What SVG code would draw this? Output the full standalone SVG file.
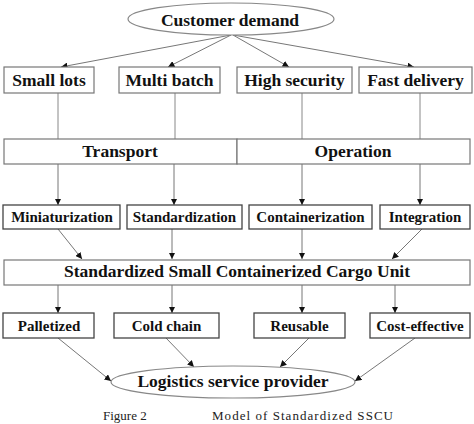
<svg xmlns="http://www.w3.org/2000/svg" width="474" height="424" viewBox="0 0 474 424">
<defs>
<marker id="ah" viewBox="0 0 10 10" refX="10" refY="5" markerWidth="6.5" markerHeight="6.5" markerUnits="userSpaceOnUse" orient="auto">
<path d="M0,0 L10,5 L0,10 z" fill="#111"/>
</marker>
<style>
.bx{fill:#fff;stroke:#777;stroke-width:1.2}
.bd{fill:#fff;stroke:#444;stroke-width:1.3}
.el{fill:#fff;stroke:#888;stroke-width:1.2}
.t1{font-family:"Liberation Serif","Times New Roman",serif;font-weight:bold;font-size:17.5px;fill:#111;text-anchor:middle}
.t2{font-family:"Liberation Serif","Times New Roman",serif;font-weight:bold;font-size:15px;fill:#111;text-anchor:middle}
.cap{font-family:"Liberation Serif","Times New Roman",serif;font-size:13px;fill:#222}
.ln{fill:none;stroke:#888;stroke-width:1}
.ar{fill:none;stroke:#777;stroke-width:1;marker-end:url(#ah)}
</style>
</defs>
<rect width="474" height="424" fill="#fff"/>
<g id="connectors">
<line class="ar" x1="231" y1="35" x2="61" y2="67"/>
<line class="ar" x1="231" y1="35" x2="168" y2="67"/>
<line class="ar" x1="233" y1="35" x2="289" y2="67"/>
<line class="ar" x1="233" y1="35" x2="414" y2="67"/>
<line class="ln" x1="58" y1="93" x2="58" y2="139"/>
<line class="ln" x1="175" y1="93" x2="175" y2="139"/>
<line class="ln" x1="302" y1="93" x2="302" y2="139"/>
<line class="ln" x1="420" y1="93" x2="420" y2="139"/>
<line class="ar" x1="58" y1="164" x2="58" y2="205"/>
<line class="ar" x1="174" y1="164" x2="174" y2="205"/>
<line class="ar" x1="302" y1="164" x2="302" y2="205"/>
<line class="ar" x1="420" y1="164" x2="420" y2="205"/>
<line class="ar" x1="58" y1="229" x2="82" y2="259"/>
<line class="ar" x1="172" y1="229" x2="172" y2="259"/>
<line class="ar" x1="302" y1="229" x2="302" y2="259"/>
<line class="ar" x1="422" y1="229" x2="392" y2="259"/>
<line class="ar" x1="58" y1="285" x2="58" y2="313"/>
<line class="ar" x1="172" y1="285" x2="172" y2="313"/>
<line class="ar" x1="302" y1="285" x2="302" y2="313"/>
<line class="ar" x1="395" y1="285" x2="395" y2="313"/>
<line class="ar" x1="58" y1="338" x2="111" y2="381"/>
<line class="ar" x1="166" y1="338" x2="194" y2="367"/>
<line class="ar" x1="309" y1="338" x2="280" y2="367"/>
<line class="ar" x1="415" y1="338" x2="355" y2="381"/>
</g>
<g id="customer-demand">
<ellipse class="el" cx="231" cy="19" rx="103" ry="16"/>
<text class="t1" x="230" y="26">Customer demand</text>
</g>
<g id="small-lots">
<rect class="bx" x="4" y="67" width="90" height="26"/>
<text class="t1" x="49" y="86">Small lots</text>
</g>
<g id="multi-batch">
<rect class="bx" x="119" y="67" width="101" height="26"/>
<text class="t1" x="169.5" y="86">Multi batch</text>
</g>
<g id="high-security">
<rect class="bx" x="237" y="67" width="115" height="26"/>
<text class="t1" x="294.5" y="86">High security</text>
</g>
<g id="fast-delivery">
<rect class="bx" x="359" y="67" width="113" height="26"/>
<text class="t1" x="415.5" y="86">Fast delivery</text>
</g>
<g id="transport">
<rect class="bx" x="4" y="139" width="233" height="25"/>
<text class="t1" x="120" y="157">Transport</text>
</g>
<g id="operation">
<rect class="bx" x="237" y="139" width="233" height="25"/>
<text class="t1" x="353" y="157">Operation</text>
</g>
<g id="miniaturization">
<rect class="bd" x="3" y="205" width="117" height="24"/>
<text class="t2" x="62" y="222">Miniaturization</text>
</g>
<g id="standardization">
<rect class="bd" x="127" y="205" width="115" height="24"/>
<text class="t2" x="184.5" y="222">Standardization</text>
</g>
<g id="containerization">
<rect class="bd" x="249" y="205" width="123" height="24"/>
<text class="t2" x="310.5" y="222">Containerization</text>
</g>
<g id="integration">
<rect class="bd" x="380" y="205" width="90" height="24"/>
<text class="t2" x="425" y="222">Integration</text>
</g>
<g id="sscu">
<rect class="bx" x="4" y="260" width="466" height="25"/>
<text class="t1" x="237" y="277">Standardized Small Containerized Cargo Unit</text>
</g>
<g id="palletized">
<rect class="bd" x="3" y="313" width="91" height="25"/>
<text class="t2" x="49" y="331">Palletized</text>
</g>
<g id="cold-chain">
<rect class="bd" x="114" y="313" width="105" height="25"/>
<text class="t2" x="166.5" y="331">Cold chain</text>
</g>
<g id="reusable">
<rect class="bd" x="254" y="313" width="91" height="25"/>
<text class="t2" x="299.5" y="331">Reusable</text>
</g>
<g id="cost-effective">
<rect class="bd" x="370" y="313" width="100" height="25"/>
<text class="t2" x="420" y="331">Cost-effective</text>
</g>
<g id="logistics-service-provider">
<ellipse class="el" cx="233" cy="382" rx="122" ry="16"/>
<text class="t1" x="233" y="387">Logistics service provider</text>
</g>
<g id="caption">
<text class="cap" x="103" y="420">Figure 2</text>
<text class="cap" x="212" y="420" textLength="181" lengthAdjust="spacing">Model of Standardized SSCU</text>
</g>
</svg>
